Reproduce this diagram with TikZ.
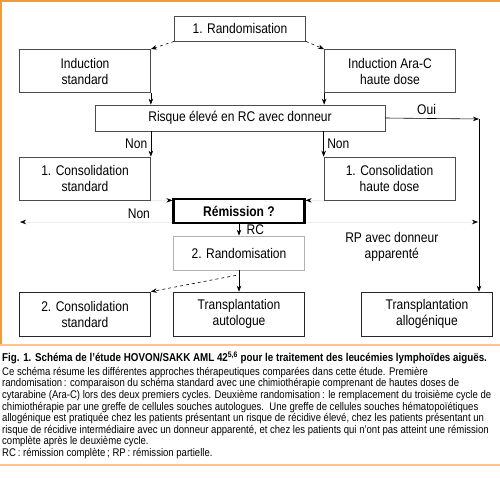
\documentclass[tikz,border=0pt]{standalone}
\usepackage{fontspec}
\setmainfont{Liberation Sans}[FakeStretch=0.86]
\usetikzlibrary{arrows.meta}
\definecolor{cadre}{HTML}{F39A3C}
\definecolor{cadreclair}{HTML}{FBC48E}
\begin{document}
\begin{tikzpicture}[x=1pt,y=-1pt,
  boite/.style={draw=black!70,line width=0.7pt,minimum width=131pt,align=center,inner sep=0pt,font=\fontsize{14}{16}\selectfont},
  lbl/.style={font=\fontsize{14}{16}\selectfont},
  fl/.style={-{Stealth[length=6pt,width=4.5pt]},line width=0.6pt},
  fltir/.style={fl,dashed},
  flpale/.style={-{Stealth[length=6pt,width=4.5pt,color=black]},line width=0.6pt,draw=black!7}]
  \useasboundingbox (0,0) rectangle (500,477);
  % cadre orange
  \draw[cadre,line width=2pt] (0,1) -- (500,1);
  \draw[cadre,line width=1.5pt] (1,0) -- (1,345);
  \draw[cadreclair,line width=1.2pt] (0,345) -- (500,345);
  \draw[cadreclair,line width=1.2pt] (0,465) -- (500,465);
  % boites
  \node[boite,minimum height=25pt] (rand1) at (240,28.5) {1. Randomisation};
  \node[boite,minimum height=43pt] (indstd) at (85,71) {Induction\\standard};
  \node[boite,minimum height=43pt] (indara) at (390,71) {Induction Ara-C\\haute dose};
  \node[boite,minimum height=26pt,minimum width=290pt] (risque) at (240,118) {Risque élevé en RC avec donneur};
  \node[boite,minimum height=43pt] (cons1std) at (85,178.5) {1. Consolidation\\standard};
  \node[boite,minimum height=43pt] (cons1hd) at (389.5,178.5) {1. Consolidation\\haute dose};
  \node[boite,minimum height=24pt,draw=black,line width=2.2pt,font=\fontsize{14}{16}\selectfont\bfseries] (remission) at (239,211) {Rémission ?};
  \node[boite,minimum height=34pt,draw=black!30] (rand2) at (239,253) {2. Randomisation};
  \node[boite,minimum height=44pt,draw=black!85] (cons2std) at (85,314) {2. Consolidation\\standard};
  \node[boite,minimum height=44pt,draw=black!85] (autol) at (239,314) {Transplantation\\autologue};
  \node[boite,minimum height=44pt,draw=black!85] (allog) at (427,314) {Transplantation\\allogénique};
  \coordinate (oui) at (479,119);
  \coordinate (nonG) at (20,222);
  \coordinate (nonD) at (478,222);
  % fleches
  \draw[fltir] (rand1.south west) -- (indstd.north east);
  \draw[fltir] (rand1.south east) -- (indara.north west);
  \draw[fl] (indstd.south east) -- (indstd.south east |- risque.north);
  \draw[fl] (indara.south west) -- (indara.south west |- risque.north);
  \draw[fl] (risque.east) -- (oui) node[pos=0.44,above,lbl] {Oui};
  \draw[fl] (oui) -- (oui |- allog.north);
  \draw[fl] (cons1std.north east |- risque.south) -- (cons1std.north east) node[midway,left,lbl] {Non};
  \draw[fl] (cons1hd.north west |- risque.south) -- (cons1hd.north west) node[midway,right,lbl] {Non};
  \draw[flpale] (cons1std.south east) -- (cons1std.south east -| remission.west);
  \draw[flpale] (cons1hd.south west) -- (cons1hd.south west -| remission.east);
  \draw[flpale] (remission.west |- nonG) -- (nonG) node[pos=0.22,above,lbl] {Non};
  \draw[flpale] (remission.east |- nonD) -- (nonD) node[midway,below=7pt,align=center,lbl] {RP avec donneur\\apparenté};
  \draw[fl] (remission.south) -- (rand2.north) node[midway,right,xshift=4pt,lbl] {RC};
  \draw[fl] (rand2.south) -- (autol.north);
  \draw[fltir] ([xshift=-3pt,yshift=-5pt]rand2.south) -- (cons2std.north east);
  % legende
  \node[anchor=north west,inner sep=0pt,font=\fontsize{11.4}{12}\selectfont\bfseries] (titre) at (2,352)
    {Fig. 1. Schéma de l’étude HOVON/SAKK AML 42\textsuperscript{5,6} pour le traitement des leucémies lymphoïdes aiguës.};
  \node[anchor=north west,inner sep=0pt,align=left,font=\fontsize{11.1}{11.6}\selectfont] (texte) at (2,367)
    {Ce schéma résume les différentes approches thérapeutiques comparées dans cette étude. Première\\
     randomisation\,: comparaison du schéma standard avec une chimiothérapie comprenant de hautes doses de\\
     cytarabine (Ara-C) lors des deux premiers cycles. Deuxième randomisation\,: le remplacement du troisième cycle de\\
     chimiothérapie par une greffe de cellules souches autologues.\ \ Une greffe de cellules souches hématopoïétiques\\
     allogénique est pratiquée chez les patients présentant un risque de récidive élevé, chez les patients présentant un\\
     risque de récidive intermédiaire avec un donneur apparenté, et chez les patients qui n’ont pas atteint une rémission\\
     complète après le deuxième cycle.\\
     RC\,: rémission complète\,; RP\,: rémission partielle.};
\end{tikzpicture}
\end{document}
